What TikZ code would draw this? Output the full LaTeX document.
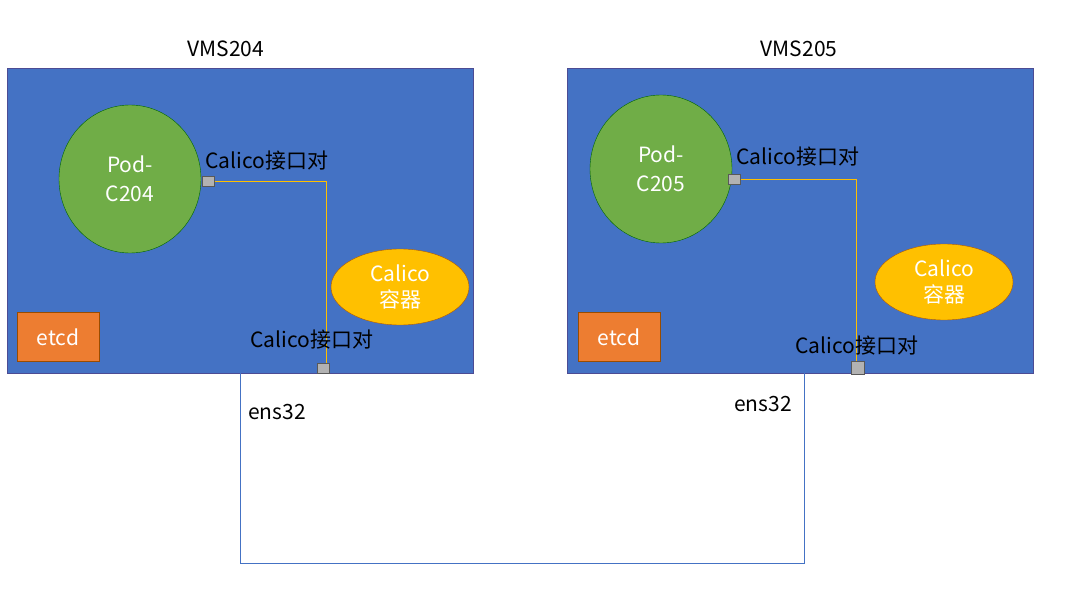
\documentclass[tikz,border=0pt]{standalone}
\usepackage{fontspec}
\setmainfont{Noto Sans CJK SC}
\usetikzlibrary{shapes.geometric}
\begin{document}
\begin{tikzpicture}[x=1pt,y=-1pt,
 box/.style={draw=blue!40!black!70, fill=boxblue, line width=0.6pt},
 pod/.style={ellipse, draw=green!40!black, fill=podgreen, minimum width=142pt, minimum height=148pt, inner sep=0pt, align=center, font=\fontsize{21}{29}\selectfont, text=white},
 cal/.style={ellipse, draw=orange!70!black, fill=calyel, minimum width=138pt, minimum height=76pt, inner sep=0pt, align=center, font=\fontsize{21}{26}\selectfont, text=white},
 etcd/.style={draw=orange!60!black, fill=etcdor, minimum width=82pt, minimum height=49pt, font=\fontsize{21}{24}\selectfont, text=white},
 sq/.style={draw=gray!70!black, fill=gray!60, minimum width=12pt, minimum height=10pt, inner sep=0pt},
 lbl/.style={font=\fontsize{21}{24}\selectfont},
 link/.style={draw=calyel, line width=0.9pt},
 net/.style={draw=boxblue, line width=0.9pt}]
\definecolor{boxblue}{HTML}{4472C4}
\definecolor{podgreen}{HTML}{70AD47}
\definecolor{calyel}{HTML}{FFC000}
\definecolor{etcdor}{HTML}{ED7D31}
\useasboundingbox (0,0) rectangle (1074,591);
\path[box] (7,68) rectangle (473,373);
\path[box] (567,68) rectangle (1033,373);
\node[lbl] (t1) at (226,49) {VMS204};
\node[lbl] (t2) at (799,49) {VMS205};
\node[pod] (p1) at (130,179) {Pod-\\C204};
\node[pod] (p2) at (661,169) {Pod-\\C205};
\node[cal] (c1) at (400,287) {Calico\\容器};
\node[cal] (c2) at (944,282) {Calico\\容器};
\node[etcd] (e1) at (58,337) {etcd};
\node[etcd] (e2) at (619,337) {etcd};
\coordinate (k1) at (326,181);
\coordinate (k2) at (856,179);
\draw[link] (208,181) -- (k1) -- (326,368);
\draw[link] (734,179) -- (k2) -- (856,368);
\node[sq] (s1) at (208,181) {};
\node[sq] (s2) at (323,368) {};
\node[sq] (s3) at (734,179) {};
\node[sq, minimum width=13pt, minimum height=13pt] (s4) at (858,368) {};
\coordinate (a1) at (240,373);
\coordinate (a2) at (804,373);
\draw[net] (a1) -- (240,563) -- (804,563) -- (a2);
\node[lbl] at (267,161) {Calico接口对};
\node[lbl] at (312,340) {Calico接口对};
\node[lbl] at (798,157) {Calico接口对};
\node[lbl] at (857,346) {Calico接口对};
\node[lbl] at (277,412) {ens32};
\node[lbl] at (763,404) {ens32};
\end{tikzpicture}
\end{document}
